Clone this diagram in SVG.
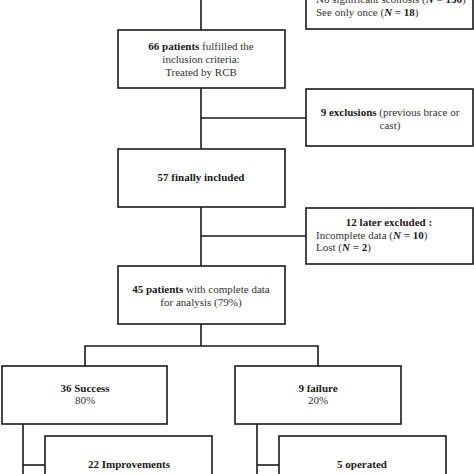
<svg xmlns="http://www.w3.org/2000/svg" width="474" height="474" viewBox="0 0 474 474">
<style>
.box{fill:#fff;stroke:#1a1a1a;stroke-width:1.6}
.ln{stroke:#1a1a1a;stroke-width:1.6;fill:none}
text{font-family:"Liberation Serif","DejaVu Serif",serif;font-size:11px;fill:#333}
.c{text-anchor:middle}
.b{font-weight:bold;fill:#1a1a1a}
</style>
<rect width="474" height="474" fill="#fff"/>
<g id="connectors">
<line class="ln" x1="201" y1="0" x2="201" y2="30"/>
<line class="ln" x1="201" y1="88" x2="201" y2="149"/>
<line class="ln" x1="201" y1="118" x2="306" y2="118"/>
<line class="ln" x1="201" y1="207" x2="201" y2="266"/>
<line class="ln" x1="201" y1="236" x2="306" y2="236"/>
<line class="ln" x1="201" y1="324" x2="201" y2="346"/>
<polyline class="ln" points="85,366 85,346 318,346 318,366"/>
<line class="ln" x1="23" y1="424" x2="23" y2="474"/>
<line class="ln" x1="23" y1="465" x2="45" y2="465"/>
<line class="ln" x1="257" y1="424" x2="257" y2="474"/>
<line class="ln" x1="257" y1="465" x2="279" y2="465"/>
</g>
<g id="excluded-top">
<rect class="box" x="306" y="-20" width="167" height="49"/>
<text x="316" y="3">No significant scoliosis (<tspan font-style="italic" class="b">N</tspan> <tspan class="b">= 156</tspan>)</text>
<text x="316" y="16">See only once (<tspan font-style="italic" class="b">N</tspan> <tspan class="b">= 18</tspan>)</text>
</g>
<g id="n66">
<rect class="box" x="118" y="30" width="167" height="58"/>
<text class="c" x="201" y="50"><tspan class="b">66 patients</tspan> fulfilled the</text>
<text class="c" x="201" y="63">inclusion criteria:</text>
<text class="c" x="201" y="76">Treated by RCB</text>
</g>
<g id="excl9">
<rect class="box" x="306" y="89" width="167" height="57"/>
<text class="c" x="390" y="116"><tspan class="b">9 exclusions</tspan> (previous brace or</text>
<text class="c" x="390" y="129">cast)</text>
</g>
<g id="n57">
<rect class="box" x="118" y="149" width="167" height="58"/>
<text class="c b" x="201" y="181">57 finally included</text>
</g>
<g id="excl12">
<rect class="box" x="306" y="208" width="167" height="56"/>
<text class="c b" x="389" y="226">12 later excluded :</text>
<text x="316" y="239">Incomplete data (<tspan font-style="italic" class="b">N</tspan> <tspan class="b">= 10</tspan>)</text>
<text x="316" y="251">Lost (<tspan font-style="italic" class="b">N</tspan> <tspan class="b">= 2</tspan>)</text>
</g>
<g id="n45">
<rect class="box" x="118" y="266" width="167" height="58"/>
<text class="c" x="201" y="293"><tspan class="b">45 patients</tspan> with complete data</text>
<text class="c" x="201" y="306">for analysis (79%)</text>
</g>
<g id="success">
<rect class="box" x="2" y="366" width="165" height="58"/>
<text class="c b" x="85" y="392">36 Success</text>
<text class="c" x="85" y="404" fill="#555">80%</text>
</g>
<g id="failure">
<rect class="box" x="235" y="366" width="166" height="58"/>
<text class="c b" x="318" y="392">9 failure</text>
<text class="c" x="318" y="404">20%</text>
</g>
<g id="improvements">
<rect class="box" x="45" y="436" width="167" height="60"/>
<text class="c b" x="129" y="468">22 Improvements</text>
</g>
<g id="operated">
<rect class="box" x="279" y="436" width="167" height="60"/>
<text class="c b" x="362" y="468">5 operated</text>
</g>
</svg>
